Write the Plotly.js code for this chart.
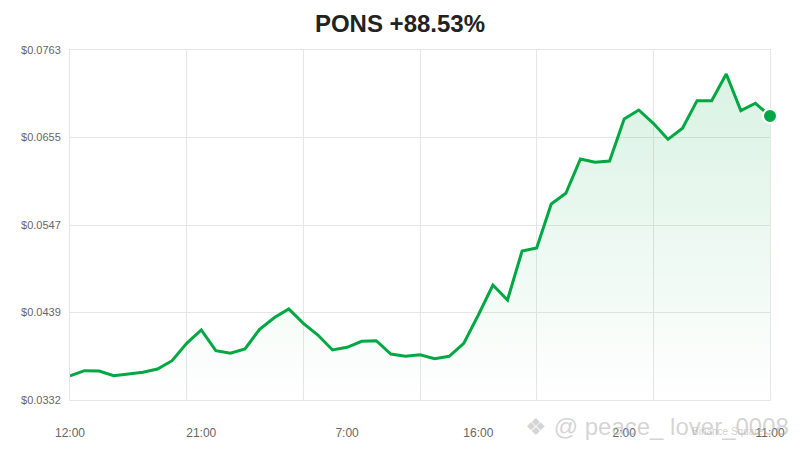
<!DOCTYPE html>
<html>
<head>
<meta charset="utf-8">
<script src="https://cdn.plot.ly/plotly-3.0.1.min.js"></script>
<style>
  html, body { margin: 0; padding: 0; background: #fff; }
  #chart { width: 800px; height: 450px; }
</style>
</head>
<body>
<div id="chart"></div>
<script>
// Hours since the first point (one point per hour)
const hours = [0,1,2,3,4,5,6,7,8,9,10,11,12,13,14,15,16,17,18,19,20,21,22,23,24,
               25,26,27,28,29,30,31,32,33,34,35,36,37,38,39,40,41,42,43,44,45,46,47,48];
// Price (USD)
const prices = [0.03616,0.03681,0.03677,0.03619,0.03640,0.03661,0.03702,0.03804,0.04018,0.04182,
                0.03927,0.03895,0.03948,0.04191,0.04333,0.04441,0.04264,0.04120,0.03936,0.03969,
                0.04043,0.04050,0.03886,0.03858,0.03878,0.03829,0.03858,0.04018,0.04367,0.04736,
                0.04551,0.05155,0.05192,0.05734,0.05865,0.06288,0.06247,0.06263,0.06780,0.06891,
                0.06727,0.06530,0.06666,0.07006,0.07006,0.07335,0.06883,0.06974,0.06817];
// X tick labels
const xTickHours = [0, 9, 19, 28, 38, 48];
const xTickLabels = ['12:00', '21:00', '7:00', '16:00', '2:00', '11:00'];
// Y tick labels
const yTickValues = [0.0332, 0.043975, 0.05475, 0.065525, 0.0763];
const yTickLabels = ['$0.0332', '$0.0439', '$0.0547', '$0.0655', '$0.0763'];
const titleText = 'PONS +88.53%';
const watermarkText = '❖ @ peace_ lover_0008';
const watermarkSub = 'Binance Square';

const green = '#00a843';
const labelGrey = 'rgb(102,102,102)';
const yMin = yTickValues[0], yMax = yTickValues[yTickValues.length - 1];

const lineTrace = {
  x: hours, y: prices, type: 'scatter', mode: 'lines',
  line: { color: green, width: 3 },
  fill: 'tozeroy',
  fillgradient: {
    type: 'vertical',
    start: yMin, stop: yMax,
    colorscale: [[0, 'rgba(0,168,67,0.0)'], [1, 'rgba(0,168,67,0.16)']]
  },
  hoverinfo: 'skip', showlegend: false
};
const endTrace = {
  x: [hours[hours.length - 1]], y: [prices[prices.length - 1]],
  type: 'scatter', mode: 'markers',
  marker: { color: green, size: 14, line: { color: '#ffffff', width: 2 } },
  cliponaxis: false, hoverinfo: 'skip', showlegend: false
};

const layout = {
  width: 800, height: 450,
  margin: { l: 70, r: 30, t: 50, b: 50 },
  paper_bgcolor: '#ffffff', plot_bgcolor: '#ffffff',
  font: { family: '"Liberation Sans", Arial, sans-serif', color: labelGrey },
  title: {
    text: '<b>' + titleText + '</b>',
    x: 0.5, xanchor: 'center', y: 0.948, yanchor: 'middle',
    font: { size: 24, color: 'rgb(34,34,34)', family: '"Liberation Sans", Arial, sans-serif' }
  },
  xaxis: {
    range: [0, 48], type: 'linear', fixedrange: true,
    tickmode: 'array', tickvals: xTickHours, ticktext: xTickLabels,
    showgrid: false, zeroline: false,
    ticks: '', ticklabelstandoff: 22,
    tickfont: { size: 12, color: labelGrey },
    showline: true, linecolor: 'rgb(230,230,230)', linewidth: 1, mirror: true,
    layer: 'below traces',
    minor: { tick0: 0, dtick: 8, showgrid: true, gridcolor: 'rgb(230,230,230)', gridwidth: 1, ticks: '' }
  },
  yaxis: {
    range: [yMin, yMax], fixedrange: true,
    tickmode: 'array', tickvals: yTickValues, ticktext: yTickLabels,
    showgrid: true, gridcolor: 'rgb(230,230,230)', gridwidth: 1, zeroline: false,
    ticks: '', ticklabelstandoff: 6,
    tickfont: { size: 11, color: labelGrey },
    showline: true, linecolor: 'rgb(230,230,230)', linewidth: 1, mirror: true,
    layer: 'below traces'
  },
  annotations: [
    { xref: 'paper', yref: 'paper', x: 1.03, y: -0.075, xanchor: 'right', yanchor: 'middle',
      text: watermarkText, showarrow: false,
      font: { size: 24, color: 'rgba(170,170,170,0.5)', family: '"Liberation Sans", Arial, sans-serif' } },
    { xref: 'paper', yref: 'paper', x: 0.94, y: -0.09, xanchor: 'center', yanchor: 'middle',
      text: watermarkSub, showarrow: false,
      font: { size: 10, color: 'rgba(170,170,170,0.55)', family: '"Liberation Sans", Arial, sans-serif' } }
  ]
};

Plotly.newPlot('chart', [lineTrace, endTrace], layout, { displayModeBar: false, staticPlot: true });
</script>
</body>
</html>
